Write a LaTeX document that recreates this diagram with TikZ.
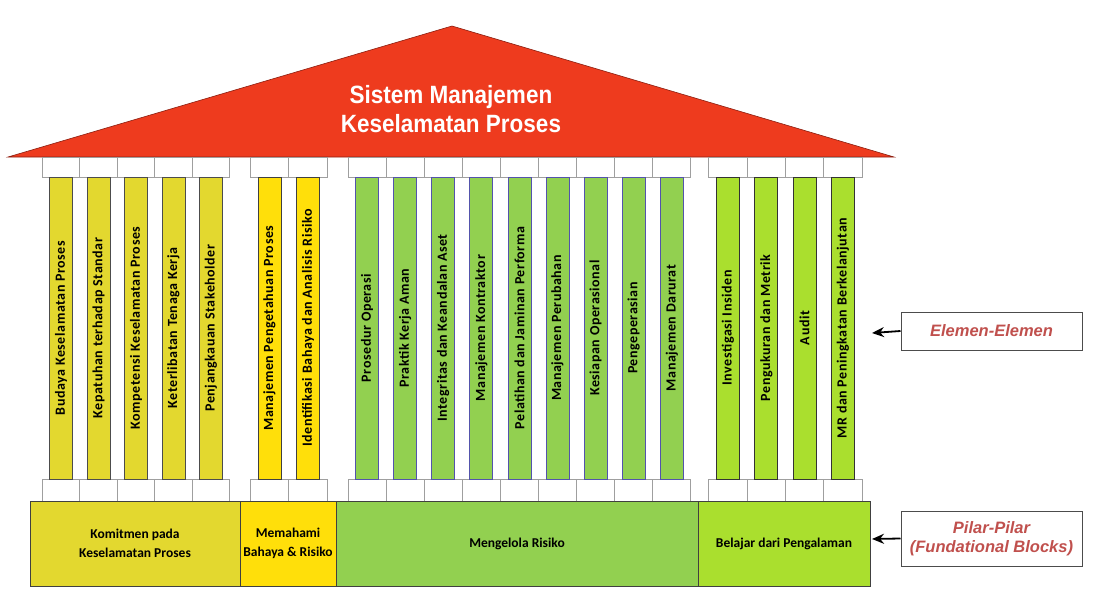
\documentclass[tikz,border=0pt]{standalone}
\usepackage{fontspec}
\setmainfont{Carlito}
\newfontfamily\pillarfont{Carlito}[LetterSpace=4]
\newfontfamily\notefont{Liberation Sans}
\newfontfamily\rooffont{Liberation Sans}[FakeStretch=0.9]
\usetikzlibrary{arrows.meta}
\definecolor{roofred}{HTML}{EE3B1E}
\definecolor{roofedge}{HTML}{8A1E10}
\definecolor{olivey}{HTML}{E3D82F}
\definecolor{brighty}{HTML}{FFDF0A}
\definecolor{leafg}{HTML}{92D050}
\definecolor{limeg}{HTML}{AADF2E}
\definecolor{notered}{HTML}{C0504D}

\begin{document}
\begin{tikzpicture}[x=1pt,y=-1pt,
  pillar/.style={rotate=90,minimum width=302pt,minimum height=23pt,inner sep=0pt,
    line width=.8pt,font=\pillarfont\bfseries\fontsize{14}{16}\selectfont},
  capblock/.style={draw=gray!75,fill=white,line width=.8pt,minimum width=#1,
    minimum height=20pt,inner sep=0pt},
  pilar/.style={draw=gray!50!black,line width=.8pt,minimum height=85pt,inner sep=0pt,
    align=center,font=\bfseries\fontsize{13.5}{19}\selectfont},
  note/.style={draw=black!70,line width=1pt,fill=white,minimum width=181pt,inner sep=0pt,
    align=center,text=notered,font=\notefont\bfseries\itshape\fontsize{16.5}{19.5}\selectfont},
  pointer/.style={-{Stealth[length=12pt,width=10pt]},line width=1.8pt}]
\useasboundingbox (0,0) rectangle (1093,600);

% roof
\draw[fill=roofred,draw=roofedge,line width=.6pt] (8,157) -- (452,26) -- (894,157) -- cycle;
\draw (451,109) node[text=white,align=center,inner sep=0pt,
  font=\rooffont\bfseries\fontsize{25}{29}\selectfont] (title)
  {Sistem Manajemen\\Keselamatan Proses};

% elemen: komitmen
\foreach \t [count=\i] in {Budaya Keselamatan Proses,Kepatuhan terhadap Standar,
  Kompetensi Keselamatan Proses,Keterlibatan Tenaga Kerja,Penjangkauan Stakeholder}{
  \pgfmathsetmacro\xx{61+37.5*(\i-1)}
  \draw (\xx,167) node[capblock=37.5pt] (komtop\i) {};
  \draw (\xx,490) node[capblock=37.5pt,minimum height=22pt] (kombot\i) {};
  \draw (\xx,328) node[pillar,fill=olivey,draw=gray!60!black] (kom\i) {\t};
}
% elemen: memahami
\foreach \t [count=\i] in {Manajemen Pengetahuan Proses,Identifikasi Bahaya dan Analisis Risiko}{
  \pgfmathsetmacro\xx{269.5+38.5*(\i-1)}
  \draw (\xx,167) node[capblock=38.5pt] (memtop\i) {};
  \draw (\xx,490) node[capblock=38.5pt,minimum height=22pt] (membot\i) {};
  \draw (\xx,328) node[pillar,fill=brighty,draw=black!75] (mem\i) {\t};
}
% elemen: mengelola
\foreach \t [count=\i] in {Prosedur Operasi,Praktik Kerja Aman,Integritas dan Keandalan Aset,
  Manajemen Kontraktor,Pelatihan dan Jaminan Performa,Manajemen Perubahan,
  Kesiapan Operasional,Pengeperasian,Manajemen Darurat}{
  \pgfmathsetmacro\xx{367+38.1*(\i-1)}
  \draw (\xx,167) node[capblock=38.1pt] (keltop\i) {};
  \draw (\xx,490) node[capblock=38.1pt,minimum height=22pt] (kelbot\i) {};
  \draw (\xx,328) node[pillar,fill=leafg,draw=blue!35!gray] (kel\i) {\t};
}
% elemen: belajar
\foreach \t [count=\i] in {Investigasi Insiden,Pengukuran dan Metrik,Audit,
  MR dan Peningkatan Berkelanjutan}{
  \pgfmathsetmacro\xx{728+38.3*(\i-1)}
  \draw (\xx,167) node[capblock=38.3pt] (beltop\i) {};
  \draw (\xx,490) node[capblock=38.3pt,minimum height=22pt] (belbot\i) {};
  \draw (\xx,328) node[pillar,fill=limeg,draw=black!80] (bel\i) {\t};
}

% pilar
\draw (135,543.5) node[pilar,fill=olivey,minimum width=210pt] (komitmen)
  {Komitmen pada\\Keselamatan Proses};
\draw (288,543.5) node[pilar,fill=brighty,minimum width=96pt] (memahami)
  {Memahami\\Bahaya \& Risiko};
\draw (517,543.5) node[pilar,fill=leafg,minimum width=362pt] (mengelola) {Mengelola Risiko};
\draw (784,543.5) node[pilar,fill=limeg,minimum width=172pt] (belajar) {Belajar dari Pengalaman};

% keterangan
\draw (991.5,331) node[note,minimum height=38pt] (elemen) {Elemen-Elemen};
\draw (991.5,538.5) node[note,minimum height=55pt] (fondasi) {Pilar-Pilar\\(Fundational Blocks)};
\coordinate (elemenpt) at (872,333);
\coordinate (fondasipt) at (872,539);
\draw[pointer] (elemen.west) -- (elemenpt);
\draw[pointer] (fondasi.west) -- (fondasipt);
\end{tikzpicture}
\end{document}
